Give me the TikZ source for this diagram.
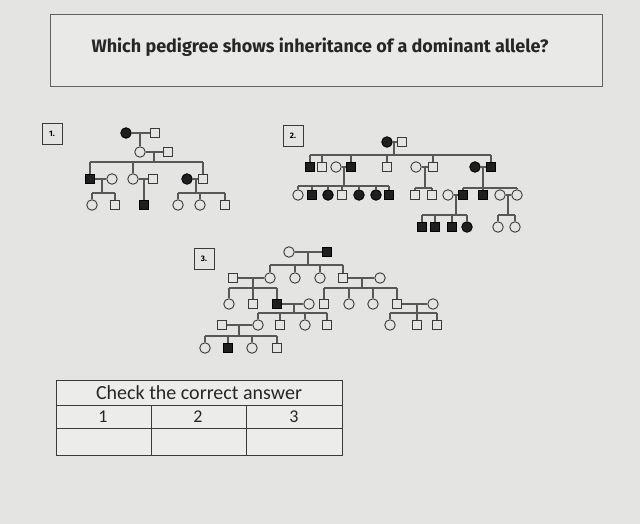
\documentclass[tikz,border=0pt]{standalone}
\usepackage{fontspec}
\setmainfont{Carlito}
\newfontfamily\titlefont{Fira Sans}
\definecolor{bg}{HTML}{E4E4E2}
\definecolor{ink}{HTML}{3A3A3A}
\newcommand\Msq[4][]{\node[msq,#1] (#2) at (#3,#4) {};}
\newcommand\Fci[4][]{\node[fci,#1] (#2) at (#3,#4) {};}
\newcommand\Kid[2]{\path (0,#2) coordinate (tmpk); \draw[pl] (#1.north) -- (#1.north |- tmpk);}
\begin{document}
\begin{tikzpicture}[x=1pt,y=-1pt,
  msq/.style={draw=ink,line width=0.9pt,rectangle,minimum size=9.5pt,inner sep=0pt,fill=bg},
  fci/.style={draw=ink,line width=0.9pt,circle,minimum size=10.5pt,inner sep=0pt,fill=bg},
  aff/.style={fill=black!88,draw=black},
  pl/.style={draw=ink!85,line width=1.1pt},
  lab/.style={draw=ink,line width=0.8pt,minimum width=20pt,minimum height=21pt,inner sep=0pt,font=\titlefont\bfseries\fontsize{8}{9}\selectfont}]
\fill[bg] (0,0) rectangle (640,524);
\useasboundingbox (0,0) rectangle (640,524);
% title
\node[draw=ink!80,line width=1pt,minimum width=552pt,minimum height=72pt,fill=bg!80!white] (title) at (326,51) {};
\node[font=\titlefont\bfseries\fontsize{18}{20}\selectfont,text=black!85] (tt) at (320,47) {Which pedigree shows inheritance of a dominant allele?};
% ---------- pedigree 1
\node[lab] (l1) at (52,134) {1.};
\Fci[aff]{a1}{126}{133} \Msq{a2}{155}{133}
\Fci{b1}{140}{152} \Msq{b2}{168}{152}
\Msq[aff]{c1}{90}{179} \Fci{c2}{112}{179} \Fci{c3}{133}{179} \Msq{c4}{153}{179}
\Fci[aff]{c5}{187}{179} \Msq{c6}{203}{179}
\Fci{d1}{92}{205} \Msq{d2}{115}{205} \Msq[aff]{d3}{144}{205}
\Fci{d4}{178}{205} \Fci{d5}{200}{205} \Msq{d6}{225}{205}
\draw[pl] (a1)--(a2); \draw[pl] (140,133)--(b1);
\draw[pl] (b1)--(b2); \draw[pl] (154,152)--(154,162); \draw[pl] (90,162)--(203,162);
\Kid{c1}{162} \Kid{c3}{162} \Kid{c6}{162}
\draw[pl] (c1)--(c2); \draw[pl] (c3)--(c4); \draw[pl] (c5)--(c6);
\draw[pl] (102,179)--(102,193); \draw[pl] (92,193)--(115,193); \Kid{d1}{193} \Kid{d2}{193}
\draw[pl] (144,179)--(d3);
\draw[pl] (196,179)--(196,193); \draw[pl] (178,193)--(225,193); \Kid{d4}{193} \Kid{d5}{193} \Kid{d6}{193}
% ---------- pedigree 2
\node[lab] (l2) at (293,136) {2.};
\Fci[aff]{e1}{387}{142} \Msq{e2}{402}{142}
\Msq[aff]{f1}{310}{167} \Msq{f2}{322}{167} \Fci{f3}{336}{167} \Msq[aff]{f4}{351}{167}
\Msq{f5}{387}{167} \Fci{f6}{416}{167} \Msq{f7}{433}{167} \Fci[aff]{f8}{475}{167} \Msq[aff]{f9}{491}{167}
\draw[pl] (e1)--(e2); \draw[pl] (394,142)--(394,155); \draw[pl] (310,155)--(491,155);
\Kid{f1}{155} \Kid{f2}{155} \Kid{f4}{155} \Kid{f5}{155} \Kid{f7}{155} \Kid{f9}{155}
\draw[pl] (f3)--(f4); \draw[pl] (f6)--(f7); \draw[pl] (f8)--(f9);
\Fci{g1}{298}{195} \Msq[aff]{g2}{312}{195} \Fci[aff]{g3}{328}{195} \Msq{g4}{342}{195}
\Fci[aff]{g5}{359}{195} \Fci[aff]{g6}{376}{195} \Msq[aff]{g7}{389}{195}
\draw[pl] (344,167)--(344,186); \draw[pl] (298,186)--(389,186);
\Kid{g1}{186} \Kid{g2}{186} \Kid{g3}{186} \Kid{g4}{186} \Kid{g5}{186} \Kid{g6}{186} \Kid{g7}{186}
\Msq{g8}{415}{195} \Msq{g9}{432}{195}
\draw[pl] (425,167)--(425,188); \draw[pl] (415,188)--(432,188); \Kid{g8}{188} \Kid{g9}{188}
\Fci{h1}{448}{195} \Msq[aff]{h2}{463}{195} \Msq[aff]{h3}{483}{195} \Fci{h4}{500}{195} \Fci{h5}{517}{195}
\draw[pl] (483,167)--(483,188); \draw[pl] (463,188)--(517,188); \Kid{h2}{188} \Kid{h3}{188} \Kid{h5}{188}
\draw[pl] (h1)--(h2); \draw[pl] (h4)--(h5);
\Msq[aff]{i1}{422}{227} \Msq[aff]{i2}{435}{227} \Msq[aff]{i3}{452}{227} \Fci[aff]{i4}{467}{227}
\Fci{i5}{498}{227} \Fci{i6}{515}{227}
\draw[pl] (456,195)--(456,215); \draw[pl] (422,215)--(467,215);
\Kid{i1}{215} \Kid{i2}{215} \Kid{i3}{215} \Kid{i4}{215}
\draw[pl] (508,195)--(508,215); \draw[pl] (498,215)--(515,215); \Kid{i5}{215} \Kid{i6}{215}
% ---------- pedigree 3
\node[lab] (l3) at (204,259) {3.};
\Fci{j1}{289}{252} \Msq[aff]{j2}{327}{252}
\draw[pl] (j1)--(j2); \draw[pl] (308,252)--(308,265); \draw[pl] (270,265)--(343,265);
\Msq{k1}{233}{278} \Fci{k2}{270}{278} \Fci{k3}{295}{278} \Fci{k4}{320}{278} \Msq{k5}{343}{278} \Fci{k6}{380}{278}
\Kid{k2}{265} \Kid{k3}{265} \Kid{k4}{265} \Kid{k5}{265}
\draw[pl] (k1)--(k2); \draw[pl] (k5)--(k6);
\Fci{m1}{229}{304} \Msq{m2}{253}{304} \Msq[aff]{m3}{277}{304} \Fci{m4}{309}{304}
\Msq{m5}{324}{304} \Fci{m6}{349}{304} \Fci{m7}{373}{304} \Msq{m8}{397}{304} \Fci{m9}{433}{304}
\draw[pl] (253,278)--(253,288); \draw[pl] (229,288)--(277,288); \Kid{m1}{288} \Kid{m2}{288} \Kid{m3}{288}
\draw[pl] (362,278)--(362,288); \draw[pl] (324,288)--(397,288); \Kid{m5}{288} \Kid{m6}{288} \Kid{m7}{288} \Kid{m8}{288}
\draw[pl] (m3)--(m4); \draw[pl] (m8)--(m9);
\Msq{n1}{222}{325} \Fci{n2}{258}{325} \Msq{n3}{280}{325} \Fci{n4}{305}{325} \Msq{n5}{327}{325}
\Fci{n6}{390}{325} \Msq{n7}{417}{325} \Msq{n8}{437}{325}
\draw[pl] (294,304)--(294,313); \draw[pl] (258,313)--(327,313); \Kid{n2}{313} \Kid{n3}{313} \Kid{n4}{313} \Kid{n5}{313}
\draw[pl] (417,304)--(417,313); \draw[pl] (390,313)--(437,313); \Kid{n6}{313} \Kid{n7}{313} \Kid{n8}{313}
\draw[pl] (n1)--(n2);
\Fci{o1}{205}{348} \Msq[aff]{o2}{228}{348} \Fci{o3}{252}{348} \Msq{o4}{277}{348}
\draw[pl] (239,325)--(239,336); \draw[pl] (205,336)--(277,336); \Kid{o1}{336} \Kid{o2}{336} \Kid{o3}{336} \Kid{o4}{336}
% ---------- table
\draw[ink,line width=0.9pt,fill=bg!70!white] (56,380) rectangle (342,455);
\draw[ink,line width=0.9pt] (56,405)--(342,405) (56,428)--(342,428) (151,405)--(151,455) (246,405)--(246,455);
\node[font=\fontsize{20}{22}\selectfont,text=black!85] (th) at (199,393) {Check the correct answer};
\node[font=\fontsize{18}{20}\selectfont,text=black!85] (t1) at (103,417) {1};
\node[font=\fontsize{18}{20}\selectfont,text=black!85] (t2) at (198,417) {2};
\node[font=\fontsize{18}{20}\selectfont,text=black!85] (t3) at (294,417) {3};
\end{tikzpicture}
\end{document}
